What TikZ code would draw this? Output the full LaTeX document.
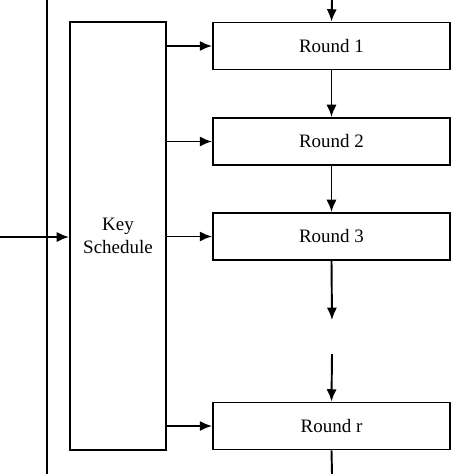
\documentclass[tikz,border=0pt]{standalone}
\usepackage{fontspec}
\setmainfont{Liberation Serif}
\usetikzlibrary{calc}
\usetikzlibrary{arrows.meta}

\begin{document}
\begin{tikzpicture}[
    % Unidade: 1 pixel da figura
    x=0.02cm, y=-0.02cm,
    line width=1.1pt,
    % Estilo das caixas das rodadas
    roundbox/.style={draw, rectangle, minimum width=4.74cm, minimum height=0.94cm,
      font=\fontsize{10.8}{13}\selectfont},
    % Estilo da caixa do escalonamento de chaves
    keybox/.style={draw, rectangle, minimum width=1.92cm, minimum height=8.56cm,
      align=center, font=\fontsize{10.8}{13}\selectfont},
    % Estilo das setas
    arr/.style={-{Latex[length=7pt,width=5.8pt]}}
  ]

  \useasboundingbox (0,0) rectangle (474,474);

  % Caixa do escalonamento de chaves
  \node[keybox] (key) at (118,236) {Key\\Schedule};

  % Rodadas
  \node[roundbox] (r1) at (331.5,46) {Round 1};
  \node[roundbox] (r2) at (331.5,141.5) {Round 2};
  \node[roundbox] (r3) at (331.5,236.5) {Round 3};
  \node[roundbox] (rr) at (331.5,426) {Round r};

  % Pontos livres
  \coordinate (bustop) at (47,0);
  \coordinate (busbot) at (47,474);
  \coordinate (keyin) at (0,237);
  \coordinate (datain) at (332,0);
  \coordinate (gapa) at (332,320);
  \coordinate (gapb) at (332,354);
  \coordinate (dataout) at (332,474);

  % Linha vertical à esquerda
  \draw (bustop) -- (busbot);

  % Entrada da chave
  \draw[arr] (keyin) -- (keyin -| key.west);

  % Subchaves para cada rodada
  \draw[arr] (key.east |- r1) -- (r1.west);
  \draw[arr] (key.east |- r2) -- (r2.west);
  \draw[arr] (key.east |- r3) -- (r3.west);
  \draw[arr] (key.east |- rr) -- (rr.west);

  % Fluxo dos dados
  \draw[arr] (datain) -- (r1.north);
  \draw[arr] (r1.south) -- (r2.north);
  \draw[arr] (r2.south) -- (r3.north);
  \draw[arr] (r3.south) -- (gapa);
  \draw[arr] (gapb) -- (rr.north);
  \draw (rr.south) -- (dataout);

\end{tikzpicture}
\end{document}
